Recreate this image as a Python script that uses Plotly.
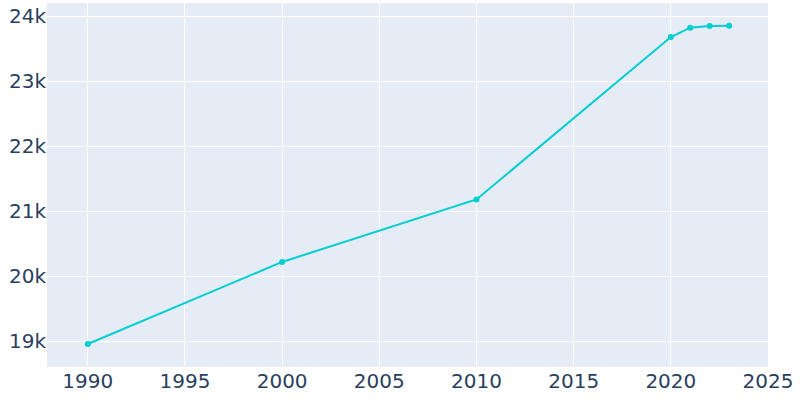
import plotly.graph_objects as go

years = [1990, 2000, 2010, 2020, 2021, 2022, 2023]
population = [18958, 20220, 21180, 23677, 23820, 23846, 23851]

fig = go.Figure(go.Scatter(x=years, y=population, mode='lines+markers',
                           line=dict(color='#00CED1', width=2),
                           marker=dict(size=6, color='#00CED1')))
fig.update_layout(template='plotly', width=800, height=400,
                  margin=dict(l=47, r=32, t=3, b=33),
                  font=dict(family='DejaVu Sans', size=20, color='#2a3f5f'),
                  showlegend=False)
fig.update_xaxes(range=[1987.9, 2025], dtick=5, tickformat='d', automargin=False)
fig.update_yaxes(range=[18605, 24200], dtick=1000, tickformat='~s', automargin=False)
fig.write_html("out.html", config={'displayModeBar': False},
               post_script="document.body.style.margin='0';")
